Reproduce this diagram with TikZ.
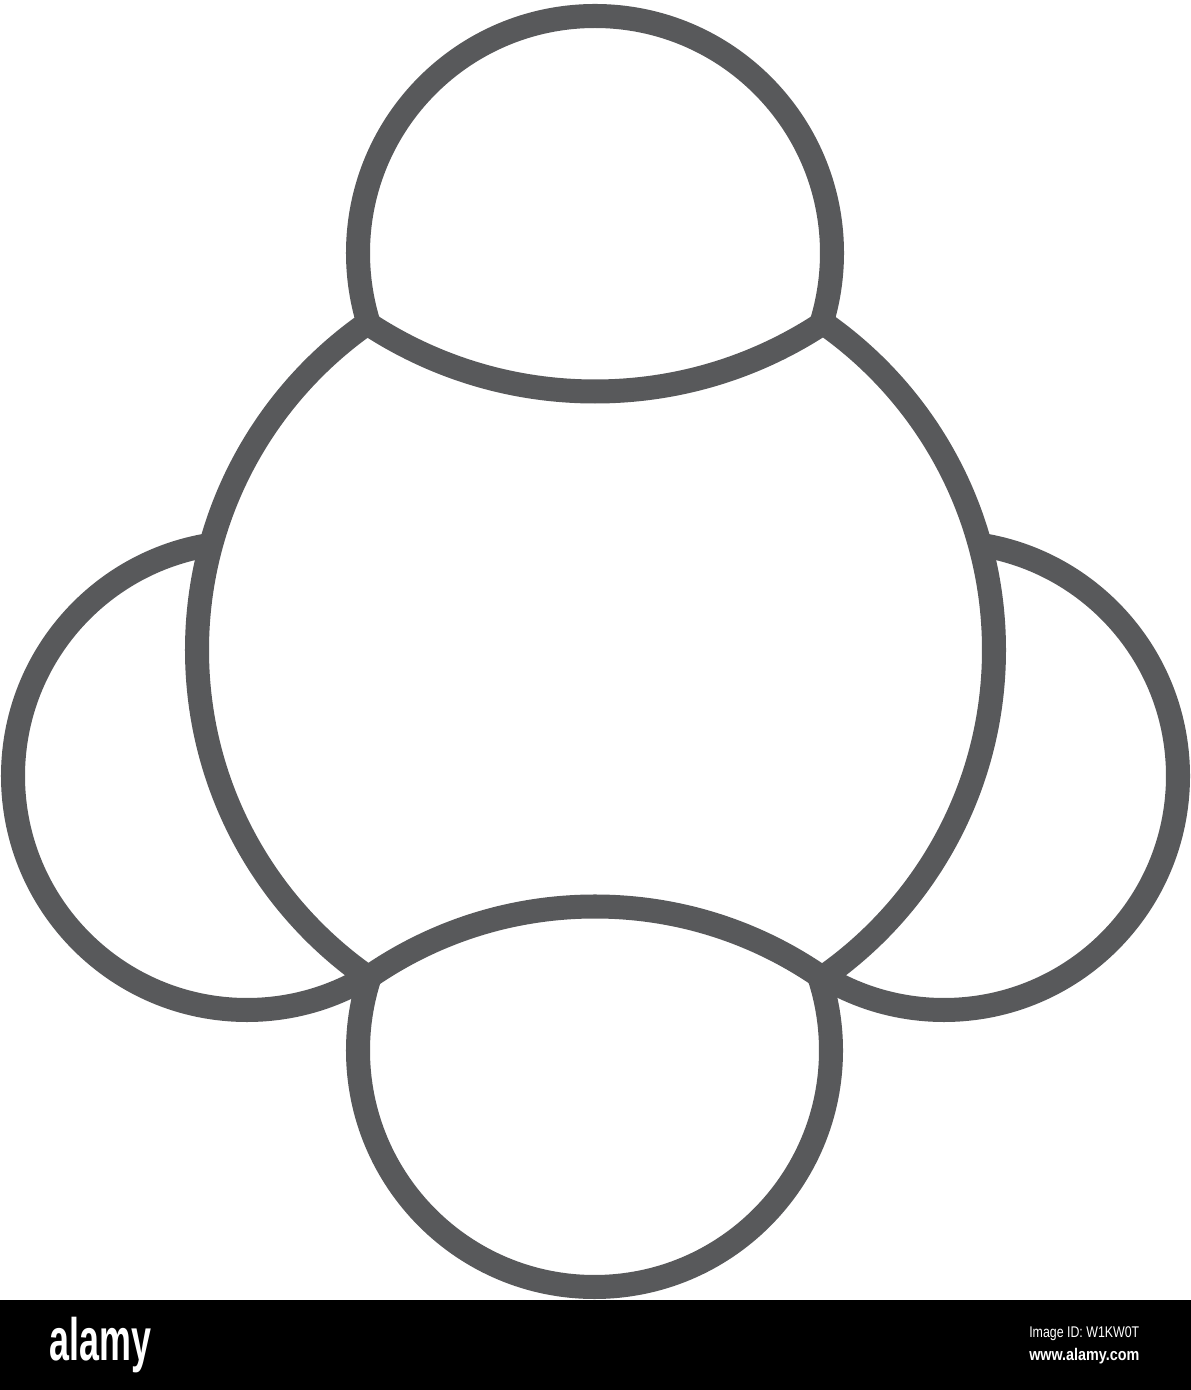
\documentclass[tikz,border=0pt]{standalone}
\usepackage{fontspec}
\usepackage{graphicx}
\newfontfamily\barfont{Liberation Sans}
\definecolor{ink}{RGB}{88,89,91}
\begin{document}
\begin{tikzpicture}[x=0.01cm,y=0.01cm,
  ring/.style={draw=ink, line width=0.24cm},
  bartext/.style={text=white, inner sep=0pt, font=\barfont}]
\useasboundingbox (0,0) rectangle (1191,1390);
\fill[white] (0,0) rectangle (1191,1390);
% side spheres
\draw[ring] (247,614) circle[radius=234];
\draw[ring] (944,614) circle[radius=234];
% central sphere
\filldraw[ring, fill=white] (595.5,740) circle[radius=398.5];
% top sphere
\begin{scope}
  \clip (595,1137) circle[radius=237];
  \clip (595,1412.5) circle[radius=414];
  \fill[white] (0,0) rectangle (1191,1390);
\end{scope}
\begin{scope}
  \clip (595,1137) circle[radius=245];
  \draw[ring] (595,1412.5) circle[radius=414];
\end{scope}
\begin{scope}
  \clip (595,1412.5) circle[radius=422];
  \draw[ring] (595,1137) circle[radius=237];
\end{scope}
% bottom sphere
\begin{scope}
  \clip (594.5,339.5) circle[radius=236.5];
  \clip (595,86) circle[radius=397.5];
  \fill[white] (0,0) rectangle (1191,1390);
\end{scope}
\begin{scope}
  \clip (594.5,339.5) circle[radius=244.5];
  \draw[ring] (595,86) circle[radius=397.5];
\end{scope}
\begin{scope}
  \clip (595,86) circle[radius=405.5];
  \draw[ring] (594.5,339.5) circle[radius=236.5];
\end{scope}
% bottom bar
\fill[black] (0,0) rectangle (1191,90);
\node[bartext, anchor=base west] (logo) at (49,30)
  {\scalebox{0.6}[1]{\fontsize{17pt}{19pt}\selectfont\bfseries alamy}};
\node[bartext, anchor=base east] (imgid) at (1140,52)
  {\scalebox{0.8}[1]{\fontsize{4.4pt}{5pt}\selectfont Image ID: W1KW0T}};
\node[bartext, anchor=base east] (web) at (1140,30)
  {\scalebox{0.85}[1]{\fontsize{4.8pt}{5.5pt}\selectfont\bfseries www.alamy.com}};
\end{tikzpicture}
\end{document}
